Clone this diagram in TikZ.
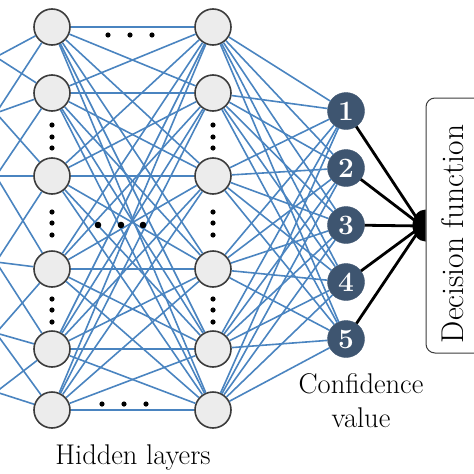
\documentclass[tikz,border=0pt]{standalone}
\usepackage{xcolor}
\usetikzlibrary{positioning}
\definecolor{linkc}{RGB}{74,132,192}
\definecolor{hiddenc}{RGB}{236,236,236}
\definecolor{outc}{RGB}{62,85,112}
\definecolor{rimc}{RGB}{60,60,60}
\tikzset{
  hidden/.style  = {circle, draw=rimc, line width=1.6pt, fill=hiddenc,
                    minimum size=36pt, inner sep=0pt},
  outnode/.style = {circle, draw=outc, fill=outc, minimum size=37pt, inner sep=0pt,
                    text=white, font=\fontsize{28}{28}\selectfont\bfseries},
  link/.style    = {draw=linkc, line width=1.6pt},
  vote/.style    = {draw=black, line width=2.8pt},
  declbox/.style = {draw=rimc, line width=1pt, rounded corners=9pt, fill=white,
                    minimum width=80pt, minimum height=255pt},
  lbl/.style     = {font=\fontsize{28.5}{34}\selectfont, align=center, inner sep=0pt},
  dotc/.style    = {fill=black},
}
\begin{document}
\begin{tikzpicture}[x=1pt, y=-1pt]

\useasboundingbox (0,0) rectangle (474,474);
\clip (0,0) rectangle (474,474);

% layers
\foreach \y [count=\i] in {27,93,176,269,349,410} {
  \node[hidden] (a\i) at (52,\y) {};
  \node[hidden] (b\i) at (213,\y) {};
}
\foreach \y [count=\i] in {111,168,225,282,339}
  \node[outnode] (o\i) at (346,\y) {\i};

% inputs (off the left edge)
\foreach \y [count=\i] in {57,113,176,262,333,392}
  \coordinate (in\i) at (-4,\y);

\foreach \i/\j in {1/1,1/2,2/1,2/2,2/3,3/2,3/3,3/4,4/3,4/4,4/5,5/4,5/5,5/6,6/5,6/6}
  \draw[link] (in\i) -- (a\j);
\foreach \i in {1,...,6}
  \foreach \j in {1,...,6}
    \draw[link] (a\i) -- (b\j);
\foreach \i in {1,...,6}
  \foreach \j in {1,...,5}
    \draw[link] (b\i) -- (o\j);

% dots
\foreach \x in {52,213}
  \foreach \y in {125,137,148, 212,223,235, 299,310,322}
    \fill[dotc] (\x,\y) circle (2.6pt);
\foreach \x in {108,130,152} \fill[dotc] (\x,35) circle (2.6pt);
\foreach \x in {98,121,143} \fill[dotc] (\x,225) circle (3.3pt);
\foreach \x in {102,124,146} \fill[dotc] (\x,404) circle (2.6pt);

% decision function
\node[declbox] (decide) at (466,225.5) {};
\node[lbl, rotate=90, font=\fontsize{31.5}{34}\selectfont] (decidetxt) at (453,234) {Decision function};
\coordinate (hub) at (422,226);
\foreach \i in {1,...,5}
  \draw[vote] (o\i) -- (hub);
\fill[black] ([yshift=16pt]decide.west) arc[start angle=90, end angle=270,
  x radius=13pt, y radius=16pt] -- cycle;

% labels
\node[lbl, anchor=base] (hidtxt) at (133,464) {Hidden layers};
\node[lbl, anchor=base] (conftxt) at (361,393) {Confidence};
\node[lbl, anchor=base] (valtxt) at (361,427) {value};

\end{tikzpicture}
\end{document}
